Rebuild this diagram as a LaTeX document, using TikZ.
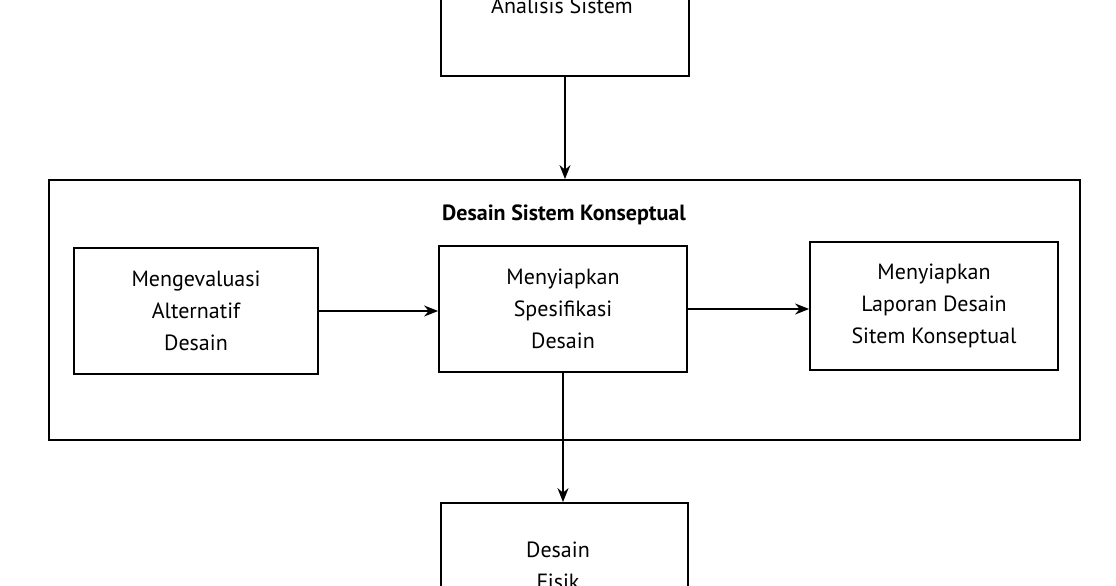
\documentclass[tikz,border=0pt]{standalone}
\usepackage{fontspec}
\setmainfont{PT Sans}
\usetikzlibrary{arrows.meta}
\tikzset{
  box/.style={draw,line width=1.8pt,rectangle,inner sep=0pt},
  txt/.style={align=center,font=\fontsize{22}{32}\selectfont},
  arr/.style={line width=1.8pt,-{Stealth[length=14pt,width=11pt]}}
}
\begin{document}
\begin{tikzpicture}[x=1pt,y=-1pt]
\useasboundingbox (0,0) rectangle (1116,586);
\clip (0,0) rectangle (1116,586);
\node[box,minimum width=248pt,minimum height=136pt] (top) at (565,8) {};
\node[txt] at (562,6) {Analisis Sistem};
\node[box,minimum width=1031pt,minimum height=260pt] (outer) at (564.5,310) {};
\node[txt,font=\fontsize{22}{26}\selectfont\bfseries] at (564,215) {Desain Sistem Konseptual};
\node[box,txt,minimum width=244pt,minimum height=126pt] (left) at (196,311) {Mengevaluasi\\Alternatif\\Desain};
\node[box,txt,minimum width=248pt,minimum height=126pt] (mid) at (563,309) {Menyiapkan\\Spesifikasi\\Desain};
\node[box,txt,minimum width=248pt,minimum height=128pt] (right) at (934,306) {Menyiapkan\\Laporan Desain\\Sitem Konseptual};
\node[box,minimum width=247pt,minimum height=150pt] (bot) at (564.5,578) {};
\node[txt] at (558,566) {Desain\\Fisik};
\draw[arr] (top.south) -- (outer.north -| top.south);
\draw[arr] (left.east) -- (left.east -| mid.west);
\draw[arr] (mid.east) -- (mid.east -| right.west);
\draw[arr] (mid.south) -- (mid.south |- bot.north);
\end{tikzpicture}
\end{document}
